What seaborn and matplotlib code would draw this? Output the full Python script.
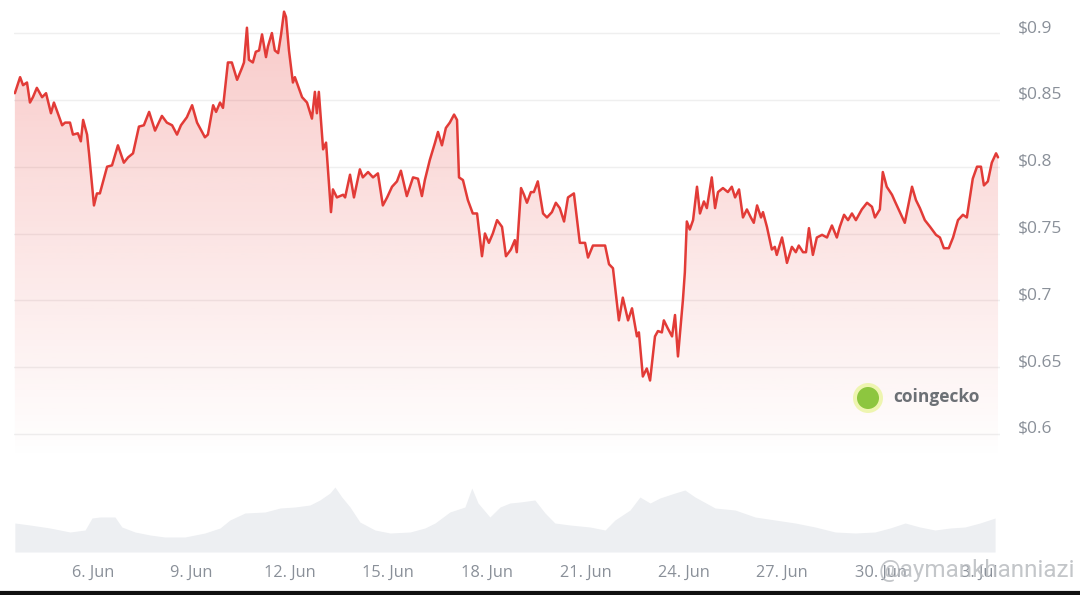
import numpy as np
import pandas as pd
import matplotlib
matplotlib.use("Agg")
import matplotlib.pyplot as plt
import matplotlib.dates as mdates
from matplotlib.patches import Circle
from matplotlib.lines import Line2D
from matplotlib.transforms import ScaledTranslation, IdentityTransform
import seaborn as sns

sns.set_style("white")
plt.rcParams["font.family"] = ["Open Sans", "DejaVu Sans"]

# ---------------------------------------------------------------------------
# data (day = day of June, 31+ runs into July)
# ---------------------------------------------------------------------------
price_day = [
    3.62, 3.78, 3.87, 3.99, 4.08, 4.17, 4.29, 4.45, 4.57, 4.72, 4.81, 4.90, 5.06, 5.15,
    5.30, 5.39, 5.54, 5.63, 5.70, 5.82, 5.88, 6.03, 6.12, 6.21, 6.43, 6.58, 6.76, 6.94,
    7.07, 7.22, 7.40, 7.55, 7.71, 7.89, 8.10, 8.25, 8.41, 8.56, 8.68, 8.86, 9.02, 9.17,
    9.41, 9.50, 9.66, 9.75, 9.87, 9.96, 10.11, 10.23, 10.39, 10.54, 10.60, 10.69, 10.75,
    10.87, 10.96, 11.06, 11.15, 11.27, 11.33, 11.45, 11.54, 11.64, 11.73, 11.82, 11.88,
    11.97, 12.09, 12.15, 12.37, 12.52, 12.67, 12.76, 12.82, 12.88, 13.01, 13.10, 13.25,
    13.31, 13.43, 13.62, 13.68, 13.83, 13.95, 14.13, 14.22, 14.38, 14.53, 14.68, 14.83,
    14.96, 15.11, 15.26, 15.38, 15.56, 15.75, 15.90, 16.02, 16.11, 16.26, 16.42, 16.51,
    16.63, 16.75, 16.87, 17.00, 17.09, 17.15, 17.27, 17.42, 17.57, 17.70, 17.85, 17.94,
    18.06, 18.18, 18.31, 18.46, 18.58, 18.73, 18.85, 18.91, 19.04, 19.13, 19.22, 19.34,
    19.43, 19.55, 19.71, 19.83, 19.98, 20.10, 20.22, 20.35, 20.47, 20.65, 20.83, 20.99,
    21.08, 21.23, 21.44, 21.60, 21.72, 21.84, 22.02, 22.14, 22.30, 22.42, 22.57, 22.63,
    22.75, 22.87, 22.97, 23.12, 23.21, 23.33, 23.39, 23.51, 23.64, 23.73, 23.82, 23.97,
    24.03, 24.09, 24.18, 24.28, 24.40, 24.49, 24.61, 24.70, 24.85, 24.95, 25.04, 25.19,
    25.34, 25.46, 25.56, 25.68, 25.80, 25.92, 26.04, 26.13, 26.23, 26.35, 26.41, 26.53,
    26.68, 26.77, 26.83, 26.99, 27.08, 27.14, 27.29, 27.41, 27.50, 27.63, 27.72, 27.81,
    27.93, 28.05, 28.21, 28.36, 28.51, 28.66, 28.75, 28.88, 29.00, 29.12, 29.24, 29.42,
    29.58, 29.73, 29.82, 29.97, 30.06, 30.18, 30.34, 30.43, 30.58, 30.73, 30.82, 30.95,
    31.07, 31.19, 31.34, 31.50, 31.68, 31.80, 31.92, 32.07, 32.20, 32.35, 32.50, 32.62,
    32.80, 32.93, 33.05, 33.14, 33.26, 33.38, 33.51, 33.57,
]
price_usd = [
    0.855, 0.867, 0.861, 0.863, 0.848, 0.852, 0.859, 0.852, 0.855, 0.840, 0.848, 0.842, 0.831, 0.833,
    0.833, 0.824, 0.825, 0.819, 0.835, 0.824, 0.810, 0.771, 0.780, 0.780, 0.800, 0.801, 0.816, 0.803,
    0.807, 0.810, 0.830, 0.831, 0.841, 0.827, 0.838, 0.833, 0.831, 0.824, 0.831, 0.837, 0.846, 0.833,
    0.822, 0.824, 0.846, 0.841, 0.848, 0.844, 0.878, 0.878, 0.865, 0.874, 0.878, 0.904, 0.880,
    0.878, 0.886, 0.887, 0.899, 0.882, 0.890, 0.900, 0.887, 0.885, 0.899, 0.916, 0.912,
    0.887, 0.863, 0.867, 0.852, 0.848, 0.836, 0.856, 0.840, 0.856, 0.813, 0.818, 0.766,
    0.783, 0.777, 0.779, 0.777, 0.794, 0.777, 0.798, 0.792, 0.796, 0.792, 0.795, 0.771,
    0.777, 0.785, 0.789, 0.797, 0.778, 0.792, 0.791, 0.778, 0.790, 0.805, 0.818, 0.826,
    0.816, 0.829, 0.833, 0.839, 0.835, 0.792, 0.790, 0.775, 0.765, 0.765, 0.733, 0.750,
    0.743, 0.750, 0.760, 0.755, 0.733, 0.738, 0.745, 0.736, 0.784, 0.779, 0.773, 0.781,
    0.781, 0.789, 0.765, 0.762, 0.766, 0.773, 0.769, 0.759, 0.777, 0.780, 0.743, 0.743,
    0.732, 0.741, 0.741, 0.741, 0.727, 0.724, 0.685, 0.702, 0.685, 0.694, 0.673, 0.676,
    0.643, 0.649, 0.640, 0.673, 0.677, 0.676, 0.685, 0.679, 0.673, 0.689, 0.658, 0.700,
    0.721, 0.759, 0.753, 0.760, 0.785, 0.765, 0.774, 0.769, 0.792, 0.769, 0.781, 0.784,
    0.781, 0.785, 0.777, 0.783, 0.762, 0.768, 0.762, 0.758, 0.771, 0.762, 0.766, 0.755,
    0.738, 0.740, 0.734, 0.747, 0.736, 0.728, 0.740, 0.736, 0.741, 0.736, 0.736, 0.754,
    0.734, 0.747, 0.749, 0.747, 0.756, 0.747, 0.755, 0.764, 0.760, 0.765, 0.760, 0.768,
    0.773, 0.770, 0.762, 0.768, 0.796, 0.785, 0.779, 0.774, 0.766, 0.758, 0.769, 0.785,
    0.775, 0.769, 0.760, 0.755, 0.749, 0.747, 0.739, 0.739, 0.747, 0.760, 0.764, 0.762,
    0.791, 0.800, 0.800, 0.786, 0.789, 0.803, 0.810, 0.807,
]

vol_day = [
    3.62, 4.08, 4.69, 5.30, 5.76, 5.97, 6.21, 6.67, 6.88, 7.28, 7.74, 8.19, 8.80, 9.41,
    9.87, 10.17, 10.63, 11.24, 11.70, 12.15, 12.61, 12.91, 13.22, 13.37, 13.58, 13.83,
    14.13, 14.59, 15.05, 15.66, 16.11, 16.42, 16.87, 17.33, 17.54, 17.73, 18.09, 18.40,
    18.70, 19.01, 19.46, 19.77, 20.07, 20.53, 21.14, 21.60, 21.90, 22.36, 22.66, 22.97,
    23.27, 23.73, 24.03, 24.34, 24.95, 25.56, 26.17, 26.78, 27.39, 28.00, 28.61, 29.22,
    29.82, 30.28, 30.74, 31.19, 31.65, 32.11, 32.56, 33.02, 33.48,
]
vol_musd = [
    29, 27, 24, 20, 22, 34, 35, 35, 25, 20, 17, 15, 15, 19,
    24, 32, 39, 40, 44, 45, 47, 52, 59, 65, 55, 45,
    30, 22, 19, 20, 24, 29, 40, 45, 64, 49, 35, 45,
    49, 50, 52, 39, 29, 27, 25, 22, 32, 42, 55, 49,
    54, 59, 62, 55, 44, 42, 35, 32, 29, 25, 20, 19,
    20, 24, 29, 25, 22, 24, 25, 29, 34,
]

tick_days = [6, 9, 12, 15, 18, 21, 24, 27, 30, 33]
price_ticks = [0.6, 0.65, 0.7, 0.75, 0.8, 0.85, 0.9]

base = pd.Timestamp("2024-05-31")
df = pd.DataFrame({"date": base + pd.to_timedelta(price_day, unit="D"), "price": price_usd})
dv = pd.DataFrame({"date": base + pd.to_timedelta(vol_day, unit="D"), "volume": vol_musd})
tick_dates = [base + pd.Timedelta(days=d) for d in tick_days]

RED = "#e23b37"
GREY_TXT = "#8a9099"

fig = plt.figure(figsize=(10.8, 5.95), dpi=100)
ax = fig.add_axes([14 / 1080, 135 / 595, 986 / 1080, 455 / 595])
ax_v = fig.add_axes([14 / 1080, 43 / 595, 986 / 1080, 82 / 595], sharex=ax)

x0 = base + pd.Timedelta(days=3.594)
x1 = base + pd.Timedelta(days=33.63)
y_lo, y_hi = 0.5805, 0.921

# price line
sns.lineplot(data=df, x="date", y="price", ax=ax, color=RED, linewidth=1.8, zorder=3)

# gradient fill under the line
poly = ax.fill_between(df["date"], df["price"], y_lo, color="none", lw=0)
grad = np.zeros((256, 1, 4))
grad[:, 0, 0] = 232 / 255
grad[:, 0, 1] = 64 / 255
grad[:, 0, 2] = 60 / 255
grad[:, 0, 3] = np.linspace(0.28, 0.0, 256)
img = ax.imshow(grad, aspect="auto", origin="upper",
                extent=[mdates.date2num(x0), mdates.date2num(x1), y_lo, max(price_usd)],
                zorder=1)
img.set_clip_path(poly.get_paths()[0], transform=ax.transData)

ax.set_xlim(x0, x1)
ax.set_ylim(y_lo, y_hi)
ax.set_yticks(price_ticks)
ax.set_yticklabels([f"${t:g}" for t in price_ticks])
ax.yaxis.tick_right()
ax.grid(axis="y", color="#efefef", linewidth=1)
ax.grid(axis="x", visible=False)
ax.tick_params(axis="y", length=0, pad=13, labelsize=12.5, labelcolor=GREY_TXT)
ax.tick_params(axis="x", length=0, labelbottom=False)
for lab in ax.get_yticklabels():
    lab.set_transform(lab.get_transform() + ScaledTranslation(0, 5 / 72, fig.dpi_scale_trans))
ax.set_xlabel("")
ax.set_ylabel("")
sns.despine(ax=ax, left=True, bottom=True, right=True, top=True)

# volume area
ax_v.fill_between(dv["date"], dv["volume"], 0, color="#edeff2", lw=0)
ax_v.set_ylim(0, 82)
ax_v.set_yticks([])
ax_v.set_xticks(tick_dates)
ax_v.set_xticklabels([f"{d.day}. {d:%b}" for d in tick_dates])
ax_v.tick_params(axis="x", length=0, pad=9, labelsize=11.8, labelcolor=GREY_TXT)
ax_v.set_xlabel("")
sns.despine(ax=ax_v, left=True, bottom=True, right=True, top=True)

# coingecko badge (pixel coordinates, bottom-left origin)
fig.patches.append(Circle((868, 595 - 398), 15, transform=IdentityTransform(),
                          facecolor="#eef5b0", edgecolor="none", zorder=5))
fig.patches.append(Circle((868, 595 - 398), 11, transform=IdentityTransform(),
                          facecolor="#8dc63f", edgecolor="none", zorder=6))
fig.text(893 / 1080, 1 - 397 / 595, "coingecko", fontsize=12.5, fontweight="bold",
         color="#6c7075", va="center", ha="left")

# watermark
fig.text(1075 / 1080, 1 - 570 / 595, "@aymankhanniazi", fontsize=17.5, color="#b9bcc0",
         alpha=0.85, va="center", ha="right", family=["Roboto", "DejaVu Sans"])

# dark frame edge along the bottom
fig.add_artist(Line2D([0, 1], [2 / 595, 2 / 595], transform=fig.transFigure,
                      color="#111111", linewidth=3))

fig.savefig("out.png", dpi=100, facecolor="white")
